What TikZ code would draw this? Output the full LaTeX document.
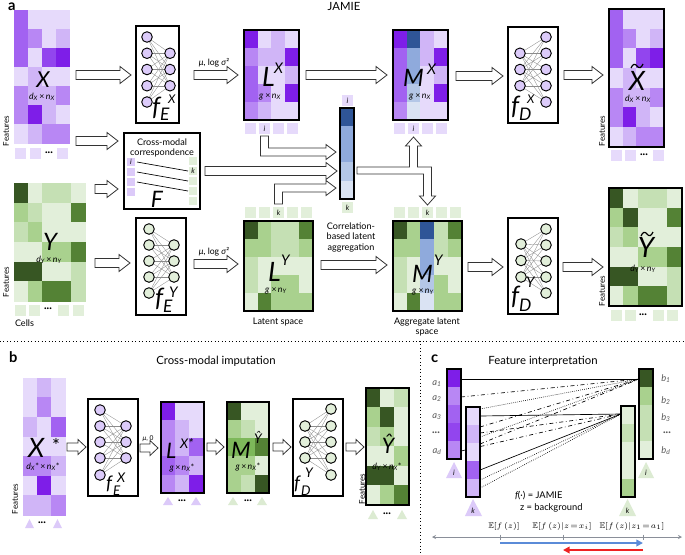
\documentclass[tikz,border=0pt]{standalone}
\usepackage{fontspec}
\setmainfont{Lato}
\usepackage{amssymb}
\usetikzlibrary{arrows.meta}
\definecolor{P0}{HTML}{E6DAFB}
\definecolor{P1}{HTML}{D0B5F7}
\definecolor{P2}{HTML}{B887F4}
\definecolor{P3}{HTML}{A262F1}
\definecolor{P4}{HTML}{9245EE}
\definecolor{P5}{HTML}{7E1EE8}
\definecolor{G0}{HTML}{E2EFDA}
\definecolor{G1}{HTML}{C5E0B4}
\definecolor{G2}{HTML}{A9D18E}
\definecolor{G2m}{HTML}{7DB85A}
\definecolor{G3}{HTML}{548235}
\definecolor{G4}{HTML}{375623}
\definecolor{B1}{HTML}{2F5597}
\definecolor{B2}{HTML}{8FAADC}
\definecolor{B3}{HTML}{B4C7E7}
\definecolor{B4}{HTML}{DAE3F3}
\definecolor{NP}{HTML}{DCCBFA}
\definecolor{NG}{HTML}{E2EFDA}
\definecolor{TP}{HTML}{DCCAF9}
\definecolor{TG}{HTML}{DCEBD2}
\definecolor{axgray}{HTML}{8A8F99}
\definecolor{axblue}{HTML}{5B8BD8}
\definecolor{axred}{HTML}{EE2222}
\newcommand\fs[1]{\fontsize{#1}{#1}\selectfont}
\newcommand\grid[5]{%
  \foreach \rw [count=\ri from 0] in {#5}{%
    \foreach \cc [count=\ci from 0] in \rw{%
      \path[fill=\cc,draw=\cc,line width=0.2pt] ({#1+\ci*#3},{#2+\ri*#4}) rectangle ({#1+\ci*#3+#3},{#2+\ri*#4+#4});
    }%
  }%
}
\newcommand\HA[3]{\draw[hollow] (#1,#2-4.5) -- (#3-11,#2-4.5) -- (#3-11,#2-8.5) -- (#3,#2) -- (#3-11,#2+8.5) -- (#3-11,#2+4.5) -- (#1,#2+4.5) -- cycle;}
\newcommand\HAs[3]{\draw[hollow] (#1,#2-4) -- (#3-8,#2-4) -- (#3-8,#2-7.5) -- (#3,#2) -- (#3-8,#2+7.5) -- (#3-8,#2+4) -- (#1,#2+4) -- cycle;}
\newcommand\net[5]{%
  \foreach \na in {#2}{\foreach \nb in {#4}{\draw[netline] (#1,\na) -- (#3,\nb);}}%
  \foreach \na in {#2}{\draw[#5] (#1,\na) circle[radius=5.3];}%
  \foreach \nb in {#4}{\draw[#5] (#3,\nb) circle[radius=5.3];}%
}
\newcommand\dimlab[4]{{\itshape #1}\textsubscript{\itshape #2}\,×\,{\itshape #3}\textsubscript{\itshape #4}}
\begin{document}
\begin{tikzpicture}[x=0.75pt,y=-0.75pt,
  every node/.style={inner sep=0pt,outer sep=0pt},
  hollow/.style={draw=black!80,fill=white,line width=0.6pt,line join=miter},
  mborder/.style={draw=black,line width=1.5pt},
  netbox/.style={draw=black,line width=1.3pt,fill=white},
  netline/.style={draw=black!45,line width=0.25pt},
  neuP/.style={draw=black,fill=NP,line width=0.7pt},
  neuG/.style={draw=black,fill=NG,line width=0.7pt},
  small/.style={font=\fs{6.5}},
  txt/.style={font=\fs{6.8}},
  feat/.style={font=\fs{6},rotate=90},
  cl/.style={font=\fs{5.5}\itshape},
  dots/.style={font=\fs{7}\bfseries},
  sep/.style={draw=black,line width=0.6pt,dotted}]
\useasboundingbox (0,0) rectangle (685,554);
\fill[white] (0,0) rectangle (685,554);

% ---------------- panel a ----------------
\node[anchor=base west,font=\fs{11}\bfseries] (pa) at (8,10) {a};
\node[anchor=base,font=\fs{8.5}] (title) at (344,10) {JAMIE};

% hollow arrows
\HA{76}{75}{131}
\HA{76}{141}{118}
\HA{95}{189}{118}
\HA{95}{263}{130}
\HA{194}{75}{238}
\HA{194}{264}{238}
\HA{306}{75}{387}
\HA{321}{265}{387}
\HA{456}{76}{503}
\HA{468}{267}{503}
\HA{564}{75}{603}
\HA{563}{267}{603}
\HA{205}{171}{337}
\draw[hollow] (260.5,136) -- (268.5,136) -- (268.5,148) -- (326,148) -- (326,144.5) -- (336,152) -- (326,159.5) -- (326,156) -- (260.5,156) -- cycle;
\draw[hollow] (274.5,204) -- (282.5,204) -- (282.5,192) -- (326,192) -- (326,195.5) -- (336,188) -- (326,180.5) -- (326,184) -- (274.5,184) -- cycle;
\draw[hollow] (357,167) -- (409.5,167) -- (409.5,146) -- (405.5,146) -- (413.5,137) -- (421.5,146) -- (417.5,146) -- (417.5,167) -- (431.5,167) -- (431.5,196) -- (435.5,196) -- (427.5,205) -- (419.5,196) -- (423.5,196) -- (423.5,174) -- (357,174) -- cycle;

\node[anchor=base,font=\fs{6.5}] (mu1) at (214,65) {\itshape μ\upshape, log \itshape σ\upshape²};
\node[anchor=base,font=\fs{6.5}] (mu2) at (214,254) {\itshape μ\upshape, log \itshape σ\upshape²};

% X
\grid{14}{10}{13.9}{19}{{P3,P0,P0,P0},{P3,P2,P0,P1},{P3,P0,P4,P5},{P0,P1,P0,P0},{P2,P1,P1,P2},{P2,P5,P1,P0},{P0,P1,P2,P2}}
\foreach \sx in {15,30,57}{\fill[P0] (\sx,148) rectangle ++(11,11);}
\node[dots] (dX) at (49,154) {···};
\node[anchor=base,font=\fs{16.5}\itshape] (labX) at (43,87) {X};
\node[anchor=base,small] (dimX) at (42,99) {\dimlab{d}{X}{n}{X}};
\node[feat] (featX) at (6,131) {Features};

% f_E^X
\draw[netbox] (136,26) rectangle (179,123);
\net{147}{37,53.25,69.5,85.75,102}{170}{53.25,69.5,85.75}{neuP}
\node[anchor=base west,font=\fs{19}\itshape] (fEX) at (152,115) {f};
\node[anchor=base west,font=\fs{13}\itshape] (fEXs) at (160,120) {E};
\node[anchor=base west,font=\fs{9}\itshape] (fEXp) at (168,103) {X};

% cross-modal box F
\draw[netbox] (124,133) rectangle (200,209);
\node[anchor=base,txt] (cm1) at (162,145) {Cross-modal};
\node[anchor=base,txt] (cm2) at (162,155.5) {correspondence};
\foreach \yy in {158,168,178,188}{\fill[TP] (127,\yy) rectangle ++(8,8);}
\foreach \yy in {157,167,177,187,197}{\fill[G0] (189,\yy) rectangle ++(8,8);}
\node[cl] (Fi) at (131,162) {i};
\node[cl] (Fk) at (193,171) {k};
\draw[line width=0.5pt] (137,162) -- (188,171);
\draw[line width=0.5pt] (137,172) -- (188,181);
\draw[line width=0.5pt] (137,182) -- (188,191);
\node[anchor=base,font=\fs{17}\itshape] (labF) at (157,207) {F};

% L^X
\grid{244}{30}{13.75}{18}{{P5,P0,P1,P0},{P2,P1,P1,P5},{P3,P0,P0,P1},{P3,P2,P0,P5},{P2,P1,P0,P0}}
\draw[mborder] (244,30) rectangle (299,120);
\foreach \sx in {245,259,273,287}{\fill[P0] (\sx,123) rectangle ++(11,11);}
\node[cl] (LXi) at (264.5,128.5) {i};
\node[anchor=base west,font=\fs{20}\itshape] (labLX) at (262,86) {L};
\node[anchor=base west,font=\fs{11}\itshape] (supLX) at (274,73) {X};
\node[anchor=base,small] (dimLX) at (270,98) {\dimlab{g}{}{n}{X}};

% M^X
\grid{393}{30}{13.75}{18}{{P5,B1,P1,P0},{P3,B2,P1,P5},{P3,B2,P0,P1},{P3,B3,P0,P5},{P2,B4,P0,P0}}
\draw[mborder] (393,30) rectangle (448,120);
\foreach \sx in {394,408,422,436}{\fill[P0] (\sx,123) rectangle ++(11,11);}
\node[cl] (MXi) at (413.5,128.5) {i};
\node[anchor=base west,font=\fs{18}\itshape] (labMX) at (403,86) {M};
\node[anchor=base west,font=\fs{11}\itshape] (supMX) at (427,74) {X};
\node[anchor=base,small] (dimMX) at (420,98) {\dimlab{g}{}{n}{X}};

% aggregation bar
\grid{340}{108}{14}{18.2}{{B1},{B2},{B2},{B3},{B4}}
\draw[mborder] (340,108) rectangle (354,199);
\fill[P0] (342,95) rectangle ++(11,11);
\node[cl] (bari) at (347.5,100.5) {i};
\fill[G0] (342,202) rectangle ++(11,11);
\node[cl] (bark) at (347.5,207.5) {k};
\node[anchor=base,txt] (cor1) at (351,229) {Correlation-};
\node[anchor=base,txt] (cor2) at (351,239.5) {based latent};
\node[anchor=base,txt] (cor3) at (351,250) {aggregation};

% f_D^X
\draw[netbox] (508,27) rectangle (558,123);
\net{520}{53.25,69.5,85.75}{546}{37,53.25,69.5,85.75,102}{neuP}
\node[anchor=base west,font=\fs{19}\itshape] (fDX) at (511,114) {f};
\node[anchor=base west,font=\fs{13}\itshape] (fDXs) at (519,120) {D};
\node[anchor=base west,font=\fs{9}\itshape] (fDXp) at (527,103) {X};

% X tilde
\grid{609}{9}{13.75}{19.7}{{P3,P0,P0,P0},{P3,P2,P0,P1},{P3,P0,P4,P5},{P0,P1,P0,P0},{P2,P1,P1,P2},{P2,P5,P1,P0},{P0,P1,P2,P2}}
\draw[mborder] (609,9) rectangle (664,147);
\foreach \sx in {611,625,653}{\fill[P0] (\sx,150) rectangle ++(11,11);}
\node[dots] (dXt) at (644,156) {···};
\node[anchor=base,font=\fs{20}\itshape] (labXt) at (637,90) {X};
\draw[line width=0.9pt] (631,68) .. controls (633,63.5) and (635,63.5) .. (637,66) .. controls (639,68.5) and (641,68.5) .. (643,64);
\node[anchor=base,small] (dimXt) at (638,101) {\dimlab{d}{X}{n}{X}};
\node[feat] (featXt) at (602,131) {Features};

% Y
\grid{14}{183}{14.2}{19.7}{{G4,G0,G1,G1,G0},{G2,G1,G0,G0,G3},{G1,G2,G0,G0,G0},{G0,G0,G2,G2,G3},{G4,G4,G0,G0,G1},{G0,G2,G3,G3,G1}}
\foreach \sx in {15,29,58,73}{\fill[G0] (\sx,305) rectangle ++(10.5,10.5);}
\node[dots] (dY) at (48,310) {···};
\node[anchor=base,font=\fs{18}\itshape] (labY) at (50,250) {Y};
\node[anchor=base,small] (dimY) at (49,262) {\dimlab{d}{Y}{n}{Y}};
\node[feat] (featY) at (6,282) {Features};
\node[anchor=base west,txt] (cells) at (15,326) {Cells};

% f_E^Y
\draw[netbox] (136,218) rectangle (186,315);
\net{149}{229,245,261,277,293}{174}{245,261,277}{neuG}
\node[anchor=base west,font=\fs{19}\itshape] (fEY) at (155,306) {f};
\node[anchor=base west,font=\fs{13}\itshape] (fEYs) at (163,312) {E};
\node[anchor=base west,font=\fs{11}\itshape] (fEYp) at (169,297) {Y};

% L^Y
\grid{244}{221}{13.8}{18}{{G4,G2,G1,G1,G3},{G2,G2,G1,G1,G2},{G1,G0,G0,G0,G0},{G1,G0,G2,G2,G0},{G0,G3,G2,G2,G2}}
\draw[mborder] (244,221) rectangle (313,311);
\foreach \sx in {245,259,273,287,301}{\fill[G0] (\sx,207) rectangle ++(11,11);}
\node[cl] (LYk) at (278.5,212.5) {k};
\node[anchor=base west,font=\fs{20}\itshape] (labLY) at (268,281) {L};
\node[anchor=base west,font=\fs{11}\itshape] (supLY) at (281,265) {Y};
\node[anchor=base,small] (dimLY) at (276,292) {\dimlab{g}{}{n}{Y}};
\node[anchor=base,txt] (latent) at (278,324) {Latent space};

% M^Y
\grid{393}{221}{13.8}{18}{{G4,G2,B1,G1,G3},{G2,G2,B2,G1,G2},{G1,G0,B2,G0,G0},{G1,G0,B3,G2,G0},{G0,G3,B4,G2,G2}}
\draw[mborder] (393,221) rectangle (462,311);
\foreach \sx in {394,408,422,436,450}{\fill[G0] (\sx,207) rectangle ++(11,11);}
\node[cl] (MYk) at (427.5,212.5) {k};
\node[anchor=base west,font=\fs{18}\itshape] (labMY) at (412,282) {M};
\node[anchor=base west,font=\fs{11}\itshape] (supMY) at (434,265) {Y};
\node[anchor=base,small] (dimMY) at (423,293) {\dimlab{g}{}{n}{Y}};
\node[anchor=base,txt] (agg1) at (427,324) {Aggregate latent};
\node[anchor=base,txt] (agg2) at (427,334.5) {space};

% f_D^Y
\draw[netbox] (508,218) rectangle (558,314);
\net{521}{244,260.5,277}{546}{229,245,261,277,293}{neuG}
\node[anchor=base west,font=\fs{19}\itshape] (fDY) at (511,304) {f};
\node[anchor=base west,font=\fs{13}\itshape] (fDYs) at (519,311) {D};
\node[anchor=base west,font=\fs{11}\itshape] (fDYp) at (526,287) {Y};

% Y tilde
\grid{609}{188}{14.6}{19.7}{{G4,G0,G1,G1,G0},{G2,G4,G0,G0,G3},{G1,G2,G0,G0,G0},{G0,G0,G2,G2,G3},{G4,G4,G0,G0,G1},{G0,G2,G3,G3,G1}}
\draw[mborder] (609,188) rectangle (682,306);
\foreach \sx in {611,625,653,667}{\fill[G0] (\sx,310) rectangle ++(11,11);}
\node[dots] (dYt) at (643,316) {···};
\node[anchor=base,font=\fs{21}\itshape] (labYt) at (646,257) {Y};
\draw[line width=0.9pt] (641,236) .. controls (643,231.5) and (645,231.5) .. (647,234) .. controls (649,236.5) and (651,236.5) .. (653,232);
\node[anchor=base,small] (dimYt) at (643,271) {\dimlab{d}{Y}{n}{Y}};
\node[feat] (featYt) at (602,291) {Features};

% separators
\draw[sep] (0,341) -- (685,341);
\draw[sep] (420,341) -- (420,554);

% ---------------- panel b ----------------
\node[anchor=base west,font=\fs{11}\bfseries] (pb) at (9,362) {b};
\node[anchor=base,font=\fs{8.5}] (titleb) at (216,364) {Cross-modal imputation};
\HAs{67}{447}{86}
\HAs{140}{448}{158}
\HAs{207}{447}{224}
\HAs{273}{447}{291}
\HAs{346}{447}{364}
\node[anchor=base,font=\fs{5}] (mu0) at (148,440) {\itshape μ\upshape, 0};

% X*
\grid{23}{378}{14}{19.6}{{P0,P1,P0},{P0,P2,P0},{P1,P0,P3},{P0,P0,P0},{P2,P2,P1},{P0,P5,P0},{P1,P1,P2}}
\foreach \tx in {25,53}{\fill[TP] (\tx,528) -- (\tx+4.5,519) -- (\tx+9,528) -- cycle;}
\node[dots] (dXs) at (42,524) {···};
\node[anchor=base west,font=\fs{20}\itshape] (labXs) at (28,457) {X};
\node[anchor=base west,font=\fs{14}] (labXss) at (52,452) {*};
\node[anchor=base,small] (dimXs) at (43,469) {{\itshape d}\textsubscript{\itshape X}*\,×\,{\itshape n}\textsubscript{\itshape X}*};
\node[feat] (featXs) at (15,499) {Features};

% f_E^X (b)
\draw[netbox] (88,399) rectangle (138,496);
\net{100}{410,426,442,458,475}{126}{426,442,458}{neuP}
\node[anchor=base west,font=\fs{14}\itshape] (bfEX) at (106,489) {f};
\node[anchor=base west,font=\fs{10}\itshape] (bfEXs) at (113,495) {E};
\node[anchor=base west,font=\fs{10}\itshape] (bfEXp) at (117,482) {X};

% L^X*
\grid{161}{402}{14.3}{18.2}{{P5,P0,P0},{P2,P1,P0},{P2,P1,P3},{P3,P2,P1},{P2,P1,P5}}
\draw[mborder] (161,402) rectangle (204,493);
\foreach \tx in {163,191}{\fill[TP] (\tx,505) -- (\tx+5,497) -- (\tx+10,505) -- cycle;}
\node[dots] (dLXs) at (182,502) {···};
\node[anchor=base west,font=\fs{16}\itshape] (labLXs) at (166,458) {L};
\node[anchor=base west,font=\fs{10}\itshape] (supLXs) at (180,448) {X*};
\node[anchor=base,small] (dimLXs) at (182,470) {{\itshape g}\,×\,{\itshape n}\textsubscript{\itshape X}*};

% M^Yhat
\grid{227}{402}{14}{18.2}{{G4,G0,G0},{G2,G1,G0},{G2m,G2m,G3},{G2,G2,G0},{G2,G1,G4}}
\draw[mborder] (227,402) rectangle (269,493);
\foreach \tx in {228,257}{\fill[TG] (\tx,505) -- (\tx+5,497) -- (\tx+10,505) -- cycle;}
\node[dots] (dMYh) at (248,502) {···};
\node[anchor=base west,font=\fs{17}\itshape] (labMYh) at (231,458) {M};
\node[anchor=base west,font=\fs{10}\itshape] (supMYh) at (254,443) {\^Y};
\node[anchor=base,small] (dimMYh) at (248,469) {{\itshape g}\,×\,{\itshape n}\textsubscript{\itshape X}*};

% f_D^Y (b)
\draw[netbox] (293,399) rectangle (343,496);
\net{305}{426,442,458}{331}{409,426,442,458,475}{neuG}
\node[anchor=base west,font=\fs{14}\itshape] (bfDY) at (294,489) {f};
\node[anchor=base west,font=\fs{10}\itshape] (bfDYs) at (301,495) {D};
\node[anchor=base west,font=\fs{10}\itshape] (bfDYp) at (305,477) {Y};

% Y hat
\grid{366}{388}{14.3}{19.5}{{G4,G0,G1},{G2,G4,G0},{G1,G2,G0},{G0,G0,G2},{G4,G4,G0},{G0,G2,G3}}
\draw[mborder] (366,388) rectangle (409,505);
\foreach \tx in {368,397}{\fill[TG] (\tx,519) -- (\tx+5,510) -- (\tx+10,519) -- cycle;}
\node[dots] (dYh) at (387,515) {···};
\node[anchor=base,font=\fs{16}\itshape] (labYh) at (388,453) {\^Y};
\node[anchor=base,small] (dimYh) at (387,469) {{\itshape d}\textsubscript{\itshape Y}\,×\,{\itshape n}\textsubscript{\itshape X}*};
\node[feat] (featYh) at (362,489) {Features};

% ---------------- panel c ----------------
\node[anchor=base west,font=\fs{11}\bfseries] (pc) at (431,362) {c};
\node[anchor=base,font=\fs{8.5}] (titlec) at (543,364) {Feature interpretation};
\coordinate (cA) at (639,379);
\coordinate (cB) at (621,414);
\draw[line width=0.5pt] (461,379) -- (cA);
\draw[line width=0.5pt,dash dot] (461,397) -- (cA);
\draw[line width=0.5pt,densely dotted] (480,409) -- (cA);
\draw[line width=0.5pt,dash dot] (480,427) -- (cA);
\draw[line width=0.5pt,densely dotted] (480,437) -- (cA);
\draw[line width=0.5pt,dash dot] (480,444) -- (cA);
\draw[line width=0.5pt] (480,416) -- (cB);
\draw[line width=0.5pt,dash dot] (480,433) -- (cB);
\draw[line width=0.5pt,dash dot] (461,451) -- (cB);
\draw[line width=0.5pt] (480,470) -- (cB);
\draw[line width=0.5pt,densely dotted] (480,480) -- (cB);
\draw[line width=0.5pt,densely dotted] (480,488) -- (cB);

\grid{447}{369}{14}{18}{{P5},{P2},{P3},{P4},{P2}}
\draw[mborder] (447,369) rectangle (461,459);
\grid{466}{407}{14}{18}{{P0},{P1},{P0},{P3},{P1}}
\draw[mborder] (466,407) rectangle (480,497);
\grid{639}{369}{14}{18}{{G4},{G2},{G1},{G1},{G0}}
\draw[mborder] (639,369) rectangle (653,459);
\grid{621}{406}{13.5}{18.2}{{G0},{G1},{G0},{G0},{G2}}
\draw[mborder] (621,406) rectangle (634.5,497);

\fill[TP] (446,478) -- (454,462) -- (462,478) -- cycle;
\node[cl] (ci1) at (454,473) {i};
\fill[TP] (465,516) -- (473,499) -- (482,516) -- cycle;
\node[cl] (ck1) at (473,511) {k};
\fill[TG] (638,478) -- (646,462) -- (654,478) -- cycle;
\node[cl] (ci2) at (646,473) {i};
\fill[TG] (619,516) -- (627.5,499) -- (636,516) -- cycle;
\node[cl] (ck2) at (627.5,511) {k};

\foreach \lab/\yy in {1/385,2/400,3/418,d/453}{\node[anchor=base,font=\fs{7}\itshape,text=black!65] at (437,\yy) {a\textsubscript{\lab}};}
\node[dots,text=black!65] (adots) at (436,434) {···};
\foreach \lab/\yy in {1/381,2/403,3/420,d/453}{\node[anchor=base,font=\fs{7}\itshape,text=black!65] at (666,\yy) {b\textsubscript{\lab}};}
\node[dots,text=black!65] (bdots) at (667,434) {···};

\node[anchor=base west,font=\fs{7}] (fjam) at (515,498) {{\itshape f}(·) = JAMIE};
\node[anchor=base west,font=\fs{7}] (zbg) at (520,510) {z = background};

\node[anchor=base,font=\fs{6.3}] (e1) at (504,528) {$\mathbb{E}[f\,(z)]$};
\node[anchor=base,font=\fs{6.3}] (e2) at (562,528) {$\mathbb{E}[f\,(z)|z\!=\!x_i]$};
\node[anchor=base,font=\fs{6.3}] (e3) at (632,528) {$\mathbb{E}[f\,(z)|z_1\!=\!a_1]$};
\draw[axgray,line width=0.6pt,{Stealth[length=3pt,width=3pt]}-{Stealth[length=3pt,width=3pt]}] (432,537) -- (682,537);
\foreach \tx in {500,563,643}{\draw[axgray,line width=0.6pt] (\tx,534.5) -- (\tx,539.5);}
\draw[axblue,line width=1.8pt,-{Triangle[length=5pt,width=5pt]}] (500,543) -- (643,543);
\draw[axred,line width=1.8pt,-{Triangle[length=5pt,width=5pt]}] (643,550) -- (563,550);
\end{tikzpicture}
\end{document}
